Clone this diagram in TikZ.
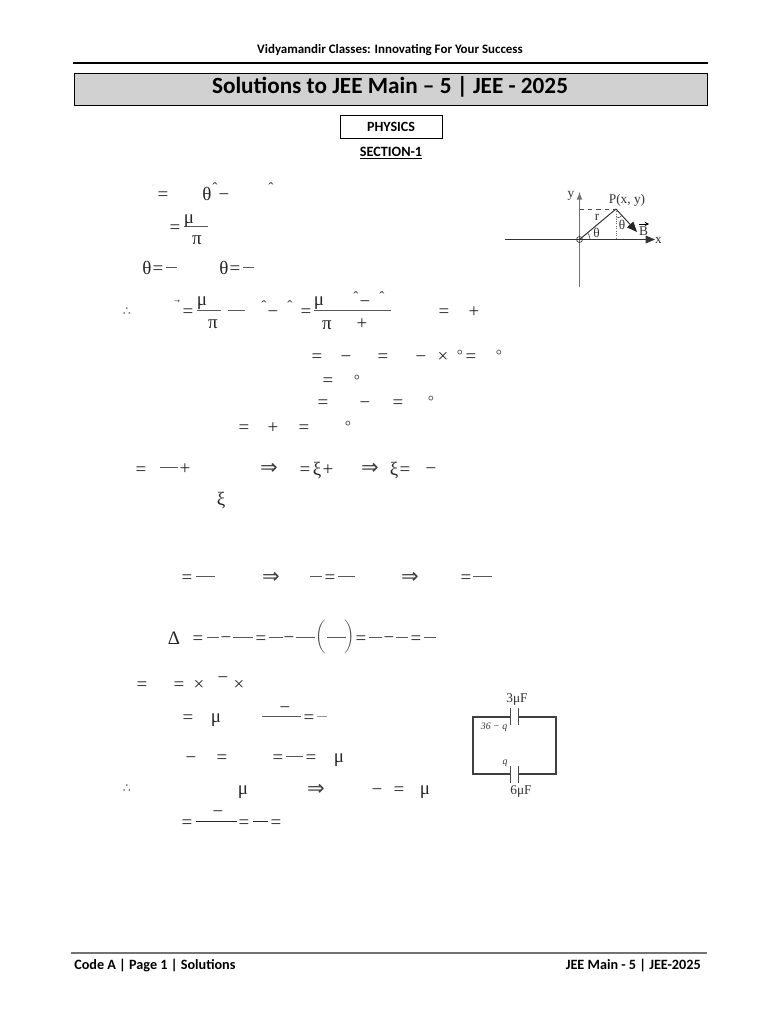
\documentclass[tikz,border=0pt]{standalone}
\usepackage{fontspec}
\setmainfont{Carlito}
\newfontfamily\symfont{Liberation Serif}
\newfontfamily\arrowfont{DejaVu Sans}
\usetikzlibrary{calc}
\usetikzlibrary{arrows}
\tikzset{
  sym/.style={inner sep=0, anchor=base, yshift=-5pt, font=\symfont\fontsize{13.5}{15}\selectfont, text=black!85},
  hat/.style={inner sep=0, anchor=base, yshift=-7pt, font=\symfont\fontsize{11}{13}\selectfont, text=black!75},
  imply/.style={inner sep=0, anchor=base, yshift=-5.6pt, font=\arrowfont\fontsize{15}{17}\selectfont, text=black!75},
  therefore/.style={inner sep=0, font=\arrowfont\fontsize{9}{10}\selectfont, text=black!65},
  smallarrow/.style={inner sep=0, font=\arrowfont\fontsize{5}{6}\selectfont, text=black!70},
  delim/.style={inner sep=0, text=black!70},
  fracbar/.style={line width=0.7pt, black!65},
  figlabel/.style={inner sep=0, font=\symfont\fontsize{9.5}{11}\selectfont, text=black!80},
  qlabel/.style={inner sep=0, font=\symfont\itshape\fontsize{7}{8}\selectfont, text=black!80},
  headtext/.style={inner sep=0, font=\bfseries\fontsize{9.2}{11}\selectfont},
  foottext/.style={inner sep=0, font=\bfseries\fontsize{10.1}{12}\selectfont},
}
\begin{document}
\begin{tikzpicture}[x=0.025cm, y=-0.025cm]
  \useasboundingbox (0,0) rectangle (768,1024);
  % header
  \path (390,50) node (school) [headtext] {Vidyamandir Classes: Innovating For Your Success};
  \draw [line width=1.4pt] (73,63) -- (708,63);
  \path (390.5,89) node (titlebox) [shape=rectangle, draw, fill=black!18, line width=0.7pt, minimum width=633*0.025cm, minimum height=32*0.025cm, inner sep=0] {};
  \path (390,86.5) node (title) [inner sep=0, font=\bfseries\fontsize{16.5}{19}\selectfont] {Solutions to JEE Main -- 5 | JEE - 2025};
  \path (391,126.5) node (physics) [shape=rectangle, draw, line width=0.7pt, minimum width=102*0.025cm, minimum height=23*0.025cm, inner sep=0, font=\bfseries\fontsize{10}{12}\selectfont] {PHYSICS};
  \path (391,153.5) node (section) [inner sep=0, font=\bfseries\fontsize{10.1}{12}\selectfont] {\underline{SECTION-1}};
  % line 1
  \fill [black!40] (153,185) circle (0.5);
  \path (163,193) node (eq1) [sym] {=};
  \path (207,193) node (th1) [sym] {θ};
  \path (215,184) node (hat1) [hat] {ˆ};
  \path (224,193) node (mn1) [sym] {−};
  \path (271,184) node (hat2) [hat] {ˆ};
  % line 2
  \path (175,226) node (eq2) [sym] {=};
  \draw [fracbar] (184,226) -- (208,226);
  \path (189,216) node (mu1) [sym] {μ};
  \path (197,237) node (pi1) [sym] {π};
  % line 3
  \path (147,267) node (th2) [sym] {θ};
  \path (158,267) node (eq3) [sym] {=};
  \draw [fracbar] (166,267) -- (177,267);
  \path (224,267) node (th3) [sym] {θ};
  \path (235,267) node (eq4) [sym] {=};
  \draw [fracbar] (243,267) -- (254,267);
  % line 4
  \path (127,312) node (so1) [therefore] {∴};
  \path (177,302) node (arr1) [smallarrow] {→};
  \path (188,310) node (eq5) [sym] {=};
  \draw [fracbar] (197,310) -- (221,310);
  \path (202,298) node (mu2) [sym] {μ};
  \path (213,321) node (pi2) [sym] {π};
  \draw [fracbar] (228,310) -- (245,310);
  \path (264,302) node (hat3) [hat] {ˆ};
  \path (273,310) node (mn2) [sym] {−};
  \path (290,302) node (hat4) [hat] {ˆ};
  \path (306,310) node (eq6) [sym] {=};
  \draw [fracbar] (314,310) -- (391,310);
  \path (319,298) node (mu3) [sym] {μ};
  \path (327,322) node (pi3) [sym] {π};
  \path (362,322) node (pl1) [sym] {+};
  \path (356,293) node (hat5) [hat] {ˆ};
  \path (365,300) node (mn3) [sym] {−};
  \path (382,293) node (hat6) [hat] {ˆ};
  \path (444,310) node (eq7) [sym] {=};
  \path (474,310) node (pl2) [sym] {+};
  % angle lines
  \path (317,355) node (eq8) [sym] {=};
  \path (346,355) node (mn4) [sym] {−};
  \path (383,355) node (eq9) [sym] {=};
  \path (421,355) node (mn5) [sym] {−};
  \path (443,355) node (ti1) [sym] {×};
  \path (460,351) node (dg1) [hat] {°};
  \path (471,355) node (eq10) [sym] {=};
  \path (499,351) node (dg2) [hat] {°};
  \path (328,379) node (eq11) [sym] {=};
  \path (357,376) node (dg3) [hat] {°};
  \path (323,401) node (eq12) [sym] {=};
  \path (365,401) node (mn6) [sym] {−};
  \path (398,401) node (eq13) [sym] {=};
  \path (431,397) node (dg4) [hat] {°};
  \path (244,426) node (eq14) [sym] {=};
  \path (273,426) node (pl3) [sym] {+};
  \path (304,426) node (eq15) [sym] {=};
  \path (348,422) node (dg5) [hat] {°};
  % emf lines
  \path (141,468) node (eq16) [sym] {=};
  \draw [fracbar] (160,467) -- (178,467);
  \path (185,467) node (pl4) [sym] {+};
  \path (269,467) node (im1) [imply] {⇒};
  \path (305,468) node (eq17) [sym] {=};
  \path (317,468) node (xi1) [sym] {ξ};
  \path (328,468) node (pl5) [sym] {+};
  \path (370,467) node (im2) [imply] {⇒};
  \path (394,468) node (xi2) [sym] {ξ};
  \path (405,468) node (eq18) [sym] {=};
  \path (431,467) node (mn7) [sym] {−};
  \path (221,498) node (xi3) [sym] {ξ};
  % ratio line
  \path (187,576) node (eq19) [sym] {=};
  \draw [fracbar] (196,576) -- (215,576);
  \path (271,576) node (im3) [imply] {⇒};
  \draw [fracbar] (310,576) -- (322,576);
  \path (330,576) node (eq20) [sym] {=};
  \draw [fracbar] (338,576) -- (355,576);
  \path (410,576) node (im4) [imply] {⇒};
  \path (466,576) node (eq21) [sym] {=};
  \draw [fracbar] (473,576) -- (492,576);
  % delta line
  \path (174,637) node (dl1) [sym] {Δ};
  \path (198,637) node (eq22) [sym] {=};
  \draw [fracbar] (207,637) -- (219,637);
  \path (226,636) node (mn8) [sym] {−};
  \draw [fracbar] (233,637) -- (253,637);
  \path (261,637) node (eq23) [sym] {=};
  \draw [fracbar] (269,637) -- (283,637);
  \path (289,636) node (mn9) [sym] {−};
  \draw [fracbar] (296,637) -- (315,637);
  \path (321,637) node (lp1) [delim] {$\bigg($};
  \draw [fracbar] (327,637) -- (346,637);
  \path (350,637) node (rp1) [delim] {$\bigg)$};
  \path (361,637) node (eq24) [sym] {=};
  \draw [fracbar] (369,637) -- (382,637);
  \path (389,636) node (mn10) [sym] {−};
  \draw [fracbar] (396,637) -- (408,637);
  \path (416,637) node (eq25) [sym] {=};
  \draw [fracbar] (424,637) -- (436,637);
  % charge lines
  \path (142,683) node (eq26) [sym] {=};
  \path (179,683) node (eq27) [sym] {=};
  \path (199,683) node (ti2) [sym] {×};
  \path (223,676) node (mn11) [sym] {−};
  \path (239,683) node (ti3) [sym] {×};
  \path (188,716) node (eq28) [sym] {=};
  \path (216,715) node (mu4) [sym] {μ};
  \draw [fracbar] (262,716) -- (301,716);
  \path (285,706) node (mn12) [sym] {−};
  \path (309,716) node (eq29) [sym] {=};
  \draw [fracbar, black!40] (317,716) -- (327,716);
  \path (191,756) node (mn13) [sym] {−};
  \path (222,756) node (eq30) [sym] {=};
  \path (278,756) node (eq31) [sym] {=};
  \draw [fracbar] (286,756) -- (303,756);
  \path (311,756) node (eq32) [sym] {=};
  \path (339,755) node (mu5) [sym] {μ};
  \path (127,789) node (so2) [therefore] {∴};
  \path (243,787) node (mu6) [sym] {μ};
  \path (316,788) node (im5) [imply] {⇒};
  \path (377,788) node (mn14) [sym] {−};
  \path (399,788) node (eq33) [sym] {=};
  \path (425,787) node (mu7) [sym] {μ};
  \path (187,821) node (eq34) [sym] {=};
  \draw [fracbar, black!85] (196,821) -- (237,821);
  \path (218,810) node (mn15) [sym] {−};
  \path (244,821) node (eq35) [sym] {=};
  \draw [fracbar, black!85] (253,821) -- (268,821);
  \path (276,821) node (eq36) [sym] {=};
  % field figure
  \coordinate (xleft) at (505,239.5);
  \coordinate (xtip) at (655,239.5);
  \coordinate (ybot) at (579.5,287);
  \coordinate (ytip) at (579.5,192);
  \coordinate (orig) at (579.5,239.5);
  \coordinate (ptp) at (616,209);
  \coordinate (yfoot) at (579.5,209);
  \coordinate (xfoot) at (616,239.5);
  \coordinate (btip) at (637,232);
  \draw [-triangle 45, line width=0.5pt, black!80] (xleft) -- (xtip);
  \draw [-latex, line width=0.9pt, black!55] (ybot) -- (ytip);
  \draw [line width=0.7pt, black!80] (orig) -- (ptp);
  \draw [dashed, line width=0.6pt, black!70] (yfoot) -- (ptp);
  \draw [densely dotted, line width=0.7pt, black!60] (ptp) -- (xfoot);
  \draw [-triangle 45, line width=0.65pt, black!85] (ptp) -- (btip);
  \draw [line width=0.5pt, black!80] (orig) circle (3);
  \fill [black!80] (orig) circle (1);
  \draw [line width=0.4pt, black!70] (590,239.5) arc (0:-41:10.5);
  \draw [line width=0.4pt, black!70] (616,218) arc (90:47:9);
  \path (571,196) node (ylab) [figlabel] {y};
  \path (658.5,240) node (xlab) [figlabel] {x};
  \path (627,200) node (plab) [figlabel] {P(x, y)};
  \path (597,217) node (rlab) [figlabel] {r};
  \path (596.5,233) node (thlab1) [figlabel] {θ};
  \path (622,225) node (thlab2) [figlabel] {θ};
  \path (643.5,231) node (blab) [figlabel] {B};
  \draw [-stealth, line width=0.4pt] (638.5,224) -- (649,224);
  % capacitor figure
  \coordinate (tl) at (473,717);
  \coordinate (tr) at (556,717);
  \coordinate (bl) at (473,774);
  \coordinate (br) at (556,774);
  \coordinate (tpa) at (510,717);
  \coordinate (tpb) at (518,717);
  \coordinate (bpa) at (510,774);
  \coordinate (bpb) at (518,774);
  \draw [line width=0.8pt, black!75] (tpa) -- (tl) -- (bl) -- (bpa);
  \draw [line width=0.8pt, black!75] (tpb) -- (tr) -- (br) -- (bpb);
  \draw [line width=0.7pt, black!70] (510,708) -- (510,725);
  \draw [line width=0.7pt, black!70] (518,708) -- (518,725);
  \draw [line width=0.7pt, black!70] (510,766) -- (510,783);
  \draw [line width=0.7pt, black!70] (518,766) -- (518,783);
  \path (517,699) node (clab1) [figlabel] {3μF};
  \path (521,791) node (clab2) [figlabel] {6μF};
  \path (494,727) node (qlab1) [qlabel] {36 − q};
  \path (505,763) node (qlab2) [qlabel] {q};
  % footer
  \draw [line width=1.1pt, black!55] (71,953) -- (707,953);
  \path (74,969) node (footl) [anchor=base west, foottext] {Code A | Page 1 | Solutions};
  \path (701,969) node (footr) [anchor=base east, foottext] {JEE Main - 5 | JEE-2025};
\end{tikzpicture}
\end{document}
